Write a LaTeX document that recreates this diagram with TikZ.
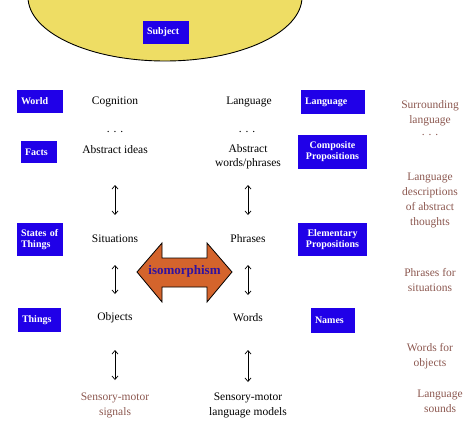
\documentclass[tikz,border=0pt]{standalone}
\usepackage{fontspec}
\setmainfont{Liberation Serif}
\usetikzlibrary{arrows.meta}
\definecolor{boxblue}{RGB}{32,0,232}
\definecolor{subjyellow}{RGB}{238,221,100}
\definecolor{brownlbl}{RGB}{140,88,80}
\definecolor{isoorange}{RGB}{212,100,44}
\definecolor{isotext}{RGB}{48,18,160}
\tikzset{
  bluebox/.style={fill=boxblue, text=white, font=\bfseries\fontsize{10}{11}\selectfont,
    inner xsep=4pt, inner ysep=0pt, anchor=center},
  lbl/.style={font=\fontsize{11.5}{15}\selectfont, align=center, inner sep=0pt, anchor=center},
  brownl/.style={lbl, text=brownlbl},
  dotsl/.style={font=\fontsize{11.5}{15}\selectfont, inner sep=0pt, anchor=center},
  updown/.style={{Straight Barb[length=3.5pt,width=6pt]}-{Straight Barb[length=3.5pt,width=6pt]}, line width=0.7pt, black}
}
\begin{document}
\begin{tikzpicture}[x=1pt,y=-1pt]
\useasboundingbox (0,0) rectangle (474,436);
\begin{scope}
\clip (0,0) rectangle (474,436);
\draw[fill=subjyellow, line width=0.9pt] (165,-3) ellipse [x radius=137, y radius=64];
\end{scope}
\node[bluebox, text width=38pt, minimum height=23pt, align=left] (subject) at (166,32.5) {Subject};

% left boxes
\node[bluebox, text width=38pt, minimum height=23pt, align=left] (world) at (40,101.5) {World};
\node[bluebox, text width=28pt, minimum height=22pt, align=left] (facts) at (39,152) {Facts};
\node[bluebox, text width=38pt, minimum height=33pt, align=left] (states) at (40,239.5) {States of\\Things};
\node[bluebox, text width=35pt, minimum height=24pt, align=left] (things) at (39.5,320) {Things};

% right boxes
\node[bluebox, text width=56pt, minimum height=24pt, align=left] (langbox) at (333,102) {Language};
\node[bluebox, text width=61pt, minimum height=34pt, align=center] (composite) at (332.5,152) {Composite\\Propositions};
\node[bluebox, text width=61pt, minimum height=33pt, align=center] (elementary) at (332.5,239.5) {Elementary\\Propositions};
\node[bluebox, text width=36pt, minimum height=25pt, align=left] (names) at (333,320.5) {Names};

% cognition column
\node[lbl] (cognition) at (115,102) {Cognition};
\node[dotsl] (dots1) at (115,132) {.\,\,.\,\,.};
\node[lbl] (ideas) at (115,150) {Abstract ideas};
\node[lbl] (situations) at (115,239) {Situations};
\node[lbl] (objects) at (115,318) {Objects};
\node[brownl] (signals) at (115,405.5) {Sensory-motor\\signals};

% language column
\node[lbl] (language) at (249,102) {Language};
\node[dotsl] (dots2) at (247,132) {.\,\,.\,\,.};
\node[lbl, font=\fontsize{11.5}{13.5}\selectfont] (words2) at (248,156.5) {Abstract\\words/phrases};
\node[lbl] (phrases) at (248,239) {Phrases};
\node[lbl] (words) at (248,318) {Words};
\node[lbl] (models) at (248,405.5) {Sensory-motor\\language models};

% right brown column
\node[brownl] (surround) at (430,113) {Surrounding\\language};
\node[dotsl, text=brownlbl] (dots3) at (430,135) {.\,\,.\,\,.};
\node[brownl] (descr) at (430,200) {Language\\descriptions\\of abstract\\thoughts};
\node[brownl] (phrsit) at (430,280) {Phrases for\\situations};
\node[brownl] (wordobj) at (430,356.5) {Words for\\objects};
\node[brownl] (sounds) at (440,401) {Language\\sounds};

% vertical double arrows
\coordinate (c1a) at (115,185); \coordinate (c1b) at (115,215);
\coordinate (c2a) at (115,265); \coordinate (c2b) at (115,294);
\coordinate (c3a) at (115,350); \coordinate (c3b) at (115,380);
\coordinate (l1a) at (248,185); \coordinate (l1b) at (248,215);
\coordinate (l2a) at (248,265); \coordinate (l2b) at (248,295);
\coordinate (l3a) at (248,350); \coordinate (l3b) at (248,382);
\draw[updown] (c1a) -- (c1b);
\draw[updown] (c2a) -- (c2b);
\draw[updown] (c3a) -- (c3b);
\draw[updown] (l1a) -- (l1b);
\draw[updown] (l2a) -- (l2b);
\draw[updown] (l3a) -- (l3b);

% isomorphism arrow
\draw[fill=isoorange, line width=0.8pt, line join=miter]
  (137,272) -- (162,243) -- (162,258) -- (207,258) -- (207,243) -- (232,272)
  -- (207,302) -- (207,287) -- (162,287) -- (162,302) -- cycle;
\node[inner sep=0pt, text=isotext, font=\bfseries\fontsize{13}{14}\selectfont] (iso) at (184.5,271) {isomorphism};
\end{tikzpicture}
\end{document}
